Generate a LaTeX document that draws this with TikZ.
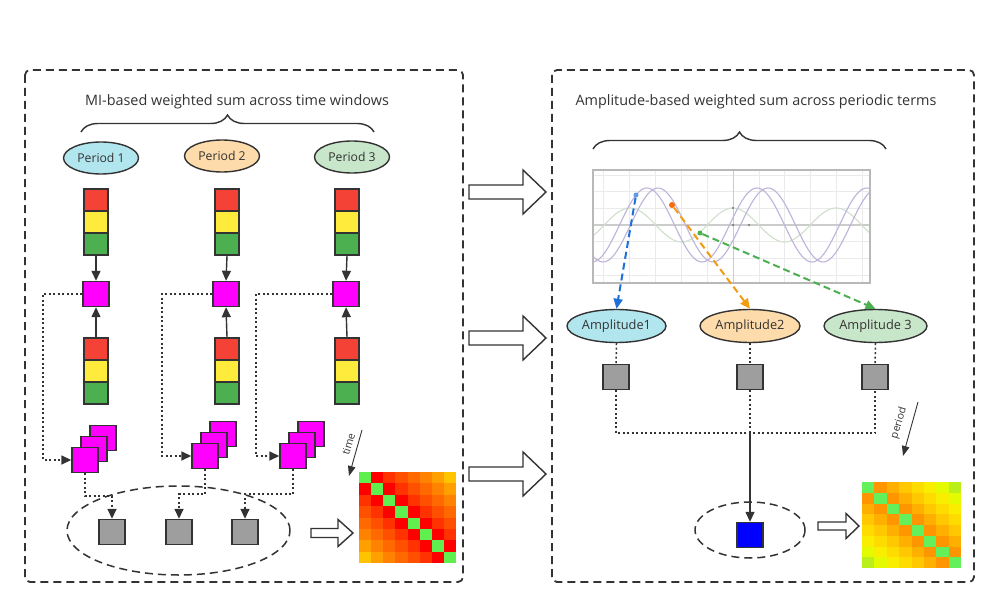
\documentclass[tikz,border=0pt]{standalone}
\usepackage{fontspec}
\setmainfont{Open Sans}
\usetikzlibrary{arrows.meta,decorations.pathreplacing,shapes.geometric}
\definecolor{ink}{HTML}{333333}
\definecolor{cred}{HTML}{F44336}
\definecolor{cyel}{HTML}{FFEB3B}
\definecolor{cgrn}{HTML}{4CAF50}
\definecolor{cmag}{HTML}{FF00FF}
\definecolor{cgray}{HTML}{9E9E9E}
\definecolor{cblue}{HTML}{0000FF}
\definecolor{ecyan}{HTML}{B2E6EF}
\definecolor{epeach}{HTML}{FDDBAA}
\definecolor{egreen}{HTML}{C8E6C9}
\definecolor{abl}{HTML}{1E6FD9}
\definecolor{aor}{HTML}{F39C12}
\definecolor{agr}{HTML}{4CAF50}
\definecolor{gridc}{HTML}{EAEAEA}
\definecolor{axisc}{HTML}{CCCCCC}
\definecolor{purc}{HTML}{BEB3D9}
\definecolor{grnc}{HTML}{D0E0CC}
\newcommand\hollowarr[6]{%
  \draw[hollow] (#1,#3-#4) -- (#6,#3-#4) -- (#6,#3-#5) -- (#2,#3) -- (#6,#3+#5) -- (#6,#3+#4) -- (#1,#3+#4) -- cycle;}
\begin{document}
\begin{tikzpicture}[x=1pt,y=-1pt,
  frame/.style={draw=ink, line width=1.8pt, dash pattern=on 8pt off 5pt, rounded corners=5pt},
  title/.style={font=\fontsize{14.4}{17}\selectfont, text=ink},
  small/.style={font=\fontsize{10.5}{12}\selectfont, text=ink},
  cell/.style={draw=ink, line width=1.4pt, minimum width=24pt, minimum height=22pt, inner sep=0pt},
  sq/.style={draw=ink, line width=1.4pt, minimum width=26pt, minimum height=25pt, inner sep=0pt},
  mag/.style={sq, fill=cmag},
  gsq/.style={sq, fill=cgray},
  ell/.style={ellipse, draw=ink, line width=1.4pt, minimum width=75pt, minimum height=32pt, inner sep=0pt, font=\fontsize{12.2}{14}\selectfont, text=ink},
  ampell/.style={ell, font=\fontsize{12.8}{15}\selectfont, minimum height=33pt},
  dashell/.style={ellipse, draw=ink, line width=1.5pt, dash pattern=on 8pt off 5pt, inner sep=0pt},
  solidarrow/.style={draw=ink, line width=1.4pt, -{Triangle[length=10pt,width=9pt]}},
  dotline/.style={draw=ink, line width=1.5pt, dash pattern=on 2pt off 2.5pt},
  dotarrow/.style={dotline, -{Triangle[length=10pt,width=9pt]}},
  thinarrow/.style={draw=ink, line width=0.9pt, -{Triangle[length=10pt,width=7.5pt]}},
  colarrow/.style={line width=2pt, dash pattern=on 7pt off 4pt, -{Triangle[length=10pt,width=9pt]}},
  hollow/.style={draw=ink, line width=1.4pt, fill=white},
  brace/.style={draw=ink, line width=1.4pt, decorate, decoration={brace, amplitude=17pt}},
  pdot/.style={circle, inner sep=0pt, minimum size=5pt}
]
\useasboundingbox[fill=white] (0,0) rectangle (998,607);

% frames
\draw[frame] (25,70) rectangle (463,582);
\draw[frame] (552,70) rectangle (974,582);

% ---------------- left panel ----------------
\node[title] (lt) at (237,102) {MI-based weighted sum across time windows};
\draw[brace] (81,132) -- (374,132);

\node[ell, fill=ecyan]  (p1) at (101,158) {Period 1};
\node[ell, fill=epeach] (p2) at (222,156) {Period 2};
\node[ell, fill=egreen] (p3) at (352,157) {Period 3};

\foreach \c/\x in {1/96, 2/227, 3/347}{
  \node[cell, fill=cred] (s\c r) at (\x,200) {};
  \node[cell, fill=cyel] (s\c y) at (\x,222) {};
  \node[cell, fill=cgrn] (s\c g) at (\x,244) {};
  \node[cell, fill=cred] (l\c r) at (\x,349) {};
  \node[cell, fill=cyel] (l\c y) at (\x,371) {};
  \node[cell, fill=cgrn] (l\c g) at (\x,393) {};
}
\node[mag] (m1) at (96,294) {};
\node[mag] (m2) at (226,294) {};
\node[mag] (m3) at (346,294) {};
\foreach \c in {1,2,3}{
  \draw[solidarrow] (s\c g.south) -- (m\c.north);
  \draw[solidarrow] (l\c r.north) -- (m\c.south);
}

% stacked magenta squares
\node[mag] (f1c) at (103,438) {};
\node[mag] (f1b) at (94,449) {};
\node[mag] (f1)  at (85,460) {};
\node[mag] (f2c) at (223,434) {};
\node[mag] (f2b) at (214,445) {};
\node[mag] (f2)  at (205,456) {};
\node[mag] (f3c) at (311,434) {};
\node[mag] (f3b) at (302,445) {};
\node[mag] (f3)  at (293,456) {};

\coordinate (b1) at (43,294);
\coordinate (b2) at (162,294);
\coordinate (b3) at (256,294);
\draw[dotarrow] (m1.west) -- (b1) |- (f1.west);
\draw[dotarrow] (m2.west) -- (b2) |- (f2.west);
\draw[dotarrow] (m3.west) -- (b3) |- (f3.west);

% dashed ellipse with gray squares
\node[dashell, minimum width=223pt, minimum height=89pt] (e1) at (178.5,530.5) {};
\node[gsq] (g1) at (112,532) {};
\node[gsq] (g2) at (179,532) {};
\node[gsq] (g3) at (245,532) {};
\draw[dotarrow] (f1.south) -- ++(0,23) -| (g1.north);
\draw[dotarrow] (f2.south) -- ++(0,25) -| (g2.north);
\draw[dotarrow] (f3.south) -- ++(0,25) -| (g3.north);

\hollowarr{311}{353}{533}{4.5}{13.5}{338}

% time label
\coordinate (t1) at (362,430);
\coordinate (t2) at (349,476);
\draw[thinarrow] (t1) -- (t2);
\node[small, rotate=73] (tl) at (348.5,444) {time};

% left heatmap
\foreach \i in {0,...,7}{
  \foreach \j in {0,...,7}{
    \pgfmathtruncatemacro\d{abs(\i-\j)}
    \pgfmathtruncatemacro\rc{{95,255,255,255,255,255,255,255}[\d]}
    \pgfmathtruncatemacro\gc{{240,0,50,80,105,130,160,195}[\d]}
    \pgfmathtruncatemacro\bc{{80,0,0,0,0,0,0,0}[\d]}
    \definecolor{hc}{RGB}{\rc,\gc,\bc}
    \fill[hc] (359+\j*12.125,472+\i*11.375) rectangle ++(12.2,11.45);
  }
}

% middle arrows
\hollowarr{469}{546}{192}{7}{22}{523}
\hollowarr{469}{546}{338}{7}{22}{523}
\hollowarr{469}{546}{474}{7}{22}{523}

% ---------------- right panel ----------------
\node[title] (rt) at (756,102) {Amplitude-based weighted sum across periodic terms};
\draw[brace] (593,149) -- (886,149);

% plot
\fill[white] (593,170) rectangle (870,283);
\begin{scope}
  \clip (593,170) rectangle (870,283);
  \foreach \k in {-5,...,5}{
    \draw[gridc, line width=0.8pt] (733+\k*25.9,170) -- (733+\k*25.9,283);
  }
  \foreach \k in {-3,...,3}{
    \draw[gridc, line width=0.8pt] (593,225+\k*16.7) -- (870,225+\k*16.7);
  }
  \draw[axisc, line width=1.2pt] (593,225) -- (870,225);
  \draw[axisc, line width=1pt] (733,170) -- (733,283);
  \draw[grnc, line width=1.1pt] plot[domain=590:873, samples=120] (\x,{225-17*cos(3.4951*(\x-733))});
  \draw[purc, line width=1.1pt] plot[domain=590:873, samples=140] (\x,{225-37*cos(3.2727*(\x-647))});
  \draw[purc, line width=1.1pt] plot[domain=590:873, samples=140] (\x,{225-37*cos(3.2727*(\x-658))});
  \fill[ink!70] (733,208) circle (1.2pt);
  \fill[ink!70] (733,225) circle (1.2pt);
  \fill[ink!70] (749,225) circle (1.2pt);
\end{scope}
\draw[axisc!90!black, line width=1.4pt] (593,170) rectangle (870,283);

\node[pdot, fill=abl!70] (pd1) at (636,195) {};
\node[pdot, fill=aor!70!red, minimum size=6pt] (pd2) at (672,205) {};
\node[pdot, fill=agr] (pd3) at (700,233) {};

\node[ampell, fill=ecyan,  minimum width=99pt] (a1) at (616.5,326) {Amplitude1};
\node[ampell, fill=epeach, minimum width=100pt] (a2) at (750,326) {Amplitude2};
\node[ampell, fill=egreen, minimum width=103pt] (a3) at (875.5,326) {Amplitude 3};

\draw[colarrow, abl] (pd1) -- (a1.north);
\draw[colarrow, aor] (pd2) -- (a2.north);
\draw[colarrow, agr] (pd3) -- (a3.north);

\node[gsq] (q1) at (616,377) {};
\node[gsq] (q2) at (750,377) {};
\node[gsq] (q3) at (875,377) {};
\foreach \c in {1,2,3}{
  \draw[dotline] (a\c.south) -- (q\c.north);
}
\draw[dotline] (q1.south) -- ++(0,43) -| (q3.south);
\coordinate (jn) at (750,433);
\draw[dotline] (q2.south) -- (jn);

\node[dashell, minimum width=110pt, minimum height=56pt] (e2) at (750,530) {};
\node[sq, fill=cblue] (bl) at (750,535) {};
\draw[solidarrow] (jn) -- (bl.north);

\hollowarr{818}{859}{526}{4}{12.5}{846}

% period label
\coordinate (r1) at (918,402);
\coordinate (r2) at (903,456);
\draw[thinarrow] (r1) -- (r2);
\node[small, rotate=73] (pl) at (899,423) {period};

% right heatmap
\foreach \i in {0,...,7}{
  \foreach \j in {0,...,7}{
    \pgfmathtruncatemacro\d{abs(\i-\j)}
    \pgfmathtruncatemacro\rc{{100,255,255,255,255,250,228,185}[\d]}
    \pgfmathtruncatemacro\gc{{240,150,175,200,220,238,250,240}[\d]}
    \pgfmathtruncatemacro\bc{{90,0,0,0,0,0,0,25}[\d]}
    \definecolor{hc}{RGB}{\rc,\gc,\bc}
    \fill[hc] (862+\j*12.375,482+\i*10.75) rectangle ++(12.45,10.8);
  }
}
\end{tikzpicture}
\end{document}
